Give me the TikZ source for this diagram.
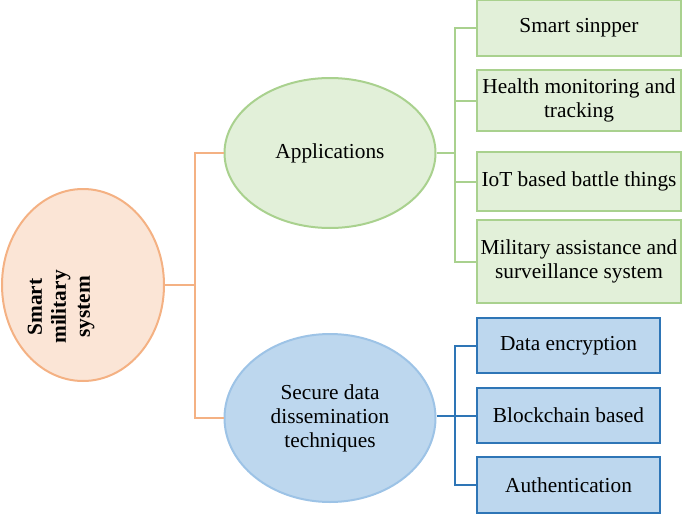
\documentclass[tikz,border=0pt]{standalone}
\usepackage{fontspec}
\setmainfont{Liberation Serif}
\usetikzlibrary{shapes.geometric}
\definecolor{peachfill}{HTML}{FBE5D6}
\definecolor{peachline}{HTML}{F4B183}
\definecolor{greenfill}{HTML}{E2F0D9}
\definecolor{greenline}{HTML}{A9D18E}
\definecolor{bluefill}{HTML}{BDD7EE}
\definecolor{blueell}{HTML}{9DC3E6}
\definecolor{blueline}{HTML}{2E75B6}
\tikzset{
  txt/.style={font=\fontsize{16}{18}\selectfont, align=center, inner sep=0pt},
  ell/.style={ellipse, draw, line width=1.5pt, inner sep=0pt},
  gbox/.style={rectangle, draw=greenline, fill=greenfill, line width=1.5pt, minimum width=153pt, inner sep=0pt, txt},
  bbox/.style={rectangle, draw=blueline, fill=bluefill, line width=1.5pt, minimum width=137.25pt, inner sep=0pt, txt},
  oconn/.style={draw=peachline, line width=1.5pt},
  gconn/.style={draw=greenline, line width=1.5pt},
  bconn/.style={draw=blueline, line width=1.5pt},
}
\begin{document}
\begin{tikzpicture}[x=0.75pt, y=-0.75pt]
\useasboundingbox (0,0) rectangle (685,514);
% root
\node[ell, draw=peachline, fill=peachfill, minimum width=121.5pt, minimum height=144pt] (root) at (83,285) {};
\node[txt, font=\fontsize{16}{18}\selectfont\bfseries, rotate=90] (roottext) at (61,307) {Smart\\military\\system};
% second level
\node[ell, draw=greenline, fill=greenfill, minimum width=158.25pt, minimum height=112.5pt, txt] (app) at (330,153) {Applications};
\node[ell, draw=blueell, fill=bluefill, minimum width=158.25pt, minimum height=126pt, txt] (sec) at (330,418) {Secure data\\dissemination\\techniques};
% green boxes
\node[gbox, minimum height=42pt] (g1) at (579,28) {Smart sinpper};
\node[gbox, minimum height=45.75pt] (g2) at (579,100.5) {Health monitoring and\\tracking};
\node[gbox, minimum height=44.25pt] (g3) at (579,181.5) {IoT based battle things};
\node[gbox, minimum height=62.25pt] (g4) at (579,261.5) {Military assistance and\\surveillance system};
% blue boxes
\node[bbox, minimum height=41.25pt] (b1) at (568.5,345.5) {Data encryption};
\node[bbox, minimum height=41.25pt] (b2) at (568.5,415.5) {Blockchain based};
\node[bbox, minimum height=42pt] (b3) at (568.5,485) {Authentication};
% junctions
\coordinate (oj) at (195,285);
\coordinate (gj) at (455,153);
\coordinate (bj) at (455,415.5);
% connectors
\draw[oconn] (root.east) -- (oj);
\draw[oconn] (oj) |- (app.west);
\draw[oconn] (oj) |- (sec.west);
\draw[gconn] (app.east) -- (gj);
\draw[gconn] (gj) |- (g1.west);
\draw[gconn] (gj) |- (g2.west);
\draw[gconn] (gj) |- (g3.west);
\draw[gconn] (gj) |- (g4.west);
\draw[bconn] (sec.east |- bj) -- (bj);
\draw[bconn] (bj) |- (b1.west);
\draw[bconn] (bj) |- (b2.west);
\draw[bconn] (bj) |- (b3.west);
\end{tikzpicture}
\end{document}
